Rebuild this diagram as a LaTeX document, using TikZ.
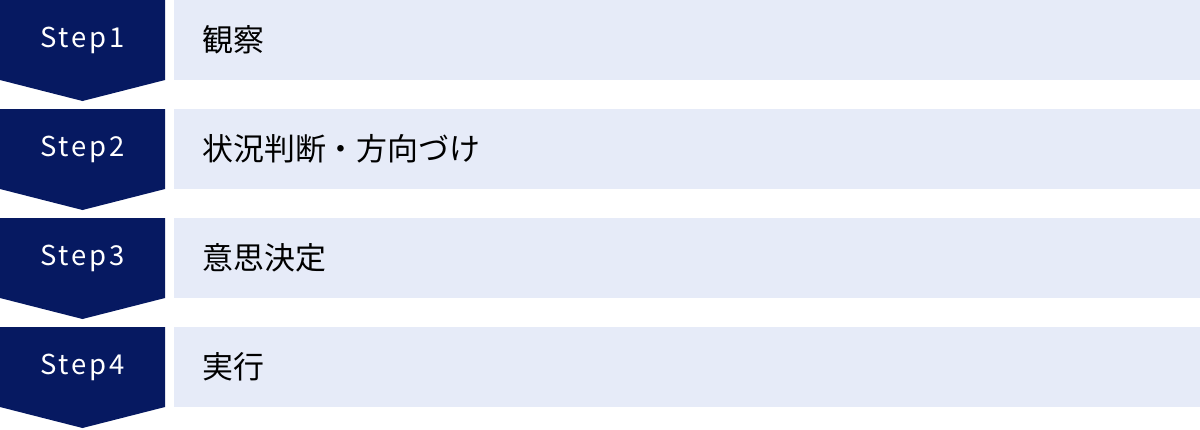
\documentclass[tikz,border=0pt]{standalone}
\usepackage{fontspec}
\setmainfont{Noto Sans CJK JP}
\newfontfamily\stepfont[LetterSpace=10]{Noto Sans CJK JP}
\usepackage{tikz}
\usetikzlibrary{positioning,calc}
\definecolor{StepNavy}{RGB}{6,25,97}
\definecolor{BoxBlue}{RGB}{230,235,248}

\begin{document}
\begin{tikzpicture}[
  chevron/.style={fill=StepNavy,draw=none},
  stepbox/.style={fill=BoxBlue,draw=none},
  steplabel/.style={text=white,font=\stepfont\fontsize{19.5}{20}\selectfont,inner sep=0pt},
  boxlabel/.style={text=black,font=\fontsize{22}{24}\selectfont,inner sep=0pt,anchor=west}
]

\useasboundingbox (0,0) rectangle (30,-10.725);

\fill[chevron] (0,0) -- (4.125,0) -- (4.125,-2) -- (2.0625,-2.525) -- (0,-2) -- cycle;
\fill[stepbox] (4.35,0) rectangle (30,-2);
\node[steplabel] (step-1) at (2.0625,-1) {Step1};
\node[boxlabel] (text-1) at (5.05,-1) {観察};

\fill[chevron] (0,-2.725) -- (4.125,-2.725) -- (4.125,-4.725) -- (2.0625,-5.25) -- (0,-4.725) -- cycle;
\fill[stepbox] (4.35,-2.725) rectangle (30,-4.725);
\node[steplabel] (step-2) at (2.0625,-3.725) {Step2};
\node[boxlabel] (text-2) at (5.05,-3.725) {状況判断・方向づけ};

\fill[chevron] (0,-5.45) -- (4.125,-5.45) -- (4.125,-7.45) -- (2.0625,-7.975) -- (0,-7.45) -- cycle;
\fill[stepbox] (4.35,-5.45) rectangle (30,-7.45);
\node[steplabel] (step-3) at (2.0625,-6.45) {Step3};
\node[boxlabel] (text-3) at (5.05,-6.45) {意思決定};

\fill[chevron] (0,-8.175) -- (4.125,-8.175) -- (4.125,-10.175) -- (2.0625,-10.7) -- (0,-10.175) -- cycle;
\fill[stepbox] (4.35,-8.175) rectangle (30,-10.175);
\node[steplabel] (step-4) at (2.0625,-9.175) {Step4};
\node[boxlabel] (text-4) at (5.05,-9.175) {実行};

\end{tikzpicture}
\end{document}
